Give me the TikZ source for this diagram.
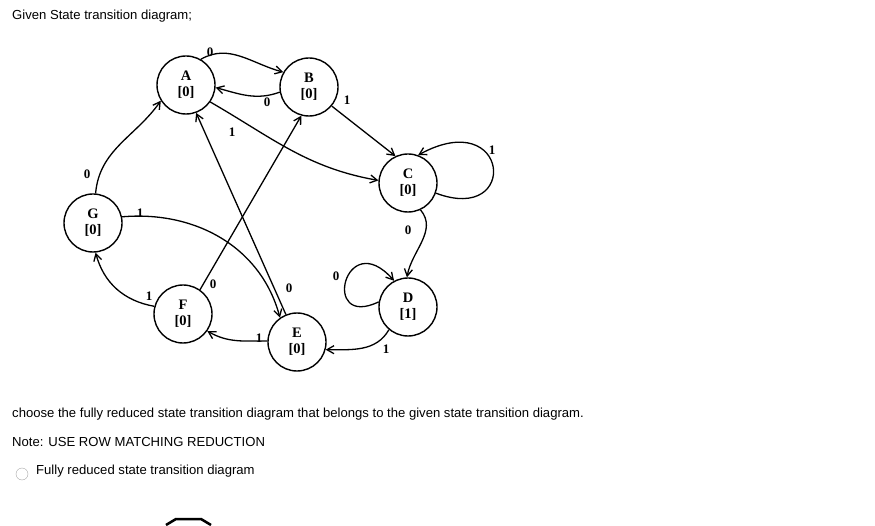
\documentclass[tikz,border=0pt]{standalone}
\usepackage{fontspec}
\setmainfont{Liberation Serif}
\newfontfamily\uisans{Liberation Sans}
\usetikzlibrary{arrows.meta}
\begin{document}
\begin{tikzpicture}[x=1pt,y=1pt,
  st/.style={circle,draw,line width=1.4pt,minimum size=58pt,inner sep=0pt,align=center,font=\fontsize{14.5}{16}\selectfont\bfseries},
  tr/.style={-{Straight Barb[length=7pt,width=8pt]},line width=1.3pt},
  lb/.style={font=\fontsize{13}{13}\selectfont\bfseries,inner sep=0pt},
  ui/.style={font=\uisans\fontsize{13.1}{15}\selectfont,anchor=west,inner sep=0pt}]
\useasboundingbox (0,0) rectangle (875,525);
\node[st] (A) at (186,440) {A\\{[0]}};
\node[st] (B) at (309,438) {B\\{[0]}};
\node[st] (C) at (408,342) {C\\{[0]}};
\node[st] (D) at (408,218) {D\\{[1]}};
\node[st] (E) at (297,183) {E\\{[0]}};
\node[st] (F) at (183,211) {F\\{[0]}};
\node[st] (G) at (93,302) {G\\{[0]}};
\draw[tr] (A.60) to[out=30,in=165] (B.150);
\draw[tr] (B.190) to[out=200,in=-15] (A.-5);
\draw[tr] (B.-40) -- (C.115);
\draw[tr] (A.-35) to[out=-30,in=170] (C.175);
\draw[tr] (C.-20) .. controls (520,300) and (510,420) .. (C.70);
\draw[tr] (C.-65) to[out=-50,in=80] (D.92);
\draw[tr] (D.170) .. controls (320,195) and (345,300) .. (D.118);
\draw[tr] (D.-130) to[out=-120,in=0] (E.-15);
\draw[tr] (E.178) to[out=180,in=-30] (F.-35);
\draw[tr] (E.112) -- (A.-70);
\draw[tr] (F.55) -- (B.-105);
\draw[tr] (F.165) to[out=170,in=-75] (G.-85);
\draw[tr] (G.12) to[out=5,in=105] (E.125);
\draw[tr] (G.85) to[out=85,in=-125] (A.-148);
\node[lb] at (210,473) {0};
\node[lb] at (267,423) {0};
\node[lb] at (347,425) {1};
\node[lb] at (232,393) {1};
\node[lb] at (492,375) {1};
\node[lb] at (408,295) {0};
\node[lb] at (336,249) {0};
\node[lb] at (386,176) {1};
\node[lb] at (259,187) {1};
\node[lb] at (289,237) {0};
\node[lb] at (213,241) {0};
\node[lb] at (149,229) {1};
\node[lb] at (140,312) {1};
\node[lb] at (87,351) {0};
\node[ui] (t1) at (12,509) {Given State transition diagram;};
\node[ui] (t2) at (12,111) {choose the fully reduced state transition diagram that belongs to the given state transition diagram.};
\node[ui] (t3) at (12,83) {Note: USE ROW MATCHING REDUCTION};
\node[circle,draw=gray!70,minimum size=12pt,inner sep=0pt] (r) at (22,51) {};
\node[ui] (t4) at (36,54) {Fully reduced state transition diagram};
\draw[line width=2.5pt] (166,0) -- (176,6) -- (201,6) -- (211,0);
\end{tikzpicture}
\end{document}
